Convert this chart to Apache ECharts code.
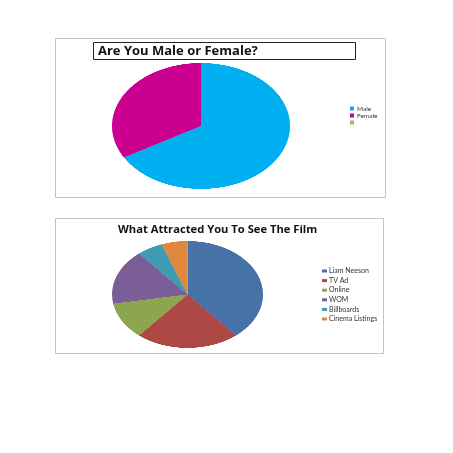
<!DOCTYPE html>
<html>
<head>
<meta charset="utf-8">
<script src="https://cdn.jsdelivr.net/npm/echarts@6/dist/echarts.min.js"></script>
<style>
html,body{margin:0;padding:0;background:#fff;}
#main{position:absolute;left:0;top:0;width:453px;height:453px;}
#pie1{position:absolute;left:136px;top:61px;width:130px;height:130px;transform:scaleX(1.413);transform-origin:50% 50%;}
#pie2{position:absolute;left:131.5px;top:239px;width:111px;height:111px;transform:scaleX(1.411);transform-origin:50% 50%;}
</style>
</head>
<body>
<div id="main"></div>
<div id="pie1"></div>
<div id="pie2"></div>
<script>
// ---- data ----
const genderTitle = 'Are You Male or Female?';
const genderCats = ['Male', 'Female', ' '];
const genderVals = [12, 6, 0];
const genderColors = ['#00b0f0', '#cc0090', '#9bbb59'];

const filmTitle = 'What Attracted You To See The Film';
const filmCats = ['Liam Neeson', 'TV Ad', 'Online', 'WOM', 'Billboards', 'Cinema Listings'];
const filmVals = [7, 4, 2, 3, 1, 1];
const filmColors = ['#4672a8', '#ad4845', '#8ba64f', '#7b5d97', '#409bb4', '#df873d'];

function pieData(cats, vals, colors) {
  return cats.map((c, i) => ({ name: c, value: vals[i], itemStyle: { color: colors[i] } }));
}

// ---- main chart: frames, titles, legends ----
const main = echarts.init(document.getElementById('main'), null, { renderer: 'canvas' });
main.setOption({
  animation: false,
  graphic: [
    { type: 'rect', z: -10, shape: { x: 55.5, y: 38.5, width: 330, height: 159 },
      style: { fill: '#fff', stroke: '#c4c4c4', lineWidth: 1 } },
    { type: 'rect', z: -10, shape: { x: 55.5, y: 218.5, width: 328, height: 135 },
      style: { fill: '#fff', stroke: '#c4c4c4', lineWidth: 1 } },
    { type: 'rect', z: -5, shape: { x: 93.5, y: 42.5, width: 262, height: 17 },
      style: { fill: 'none', stroke: '#222', lineWidth: 1 } }
  ],
  title: [
    { text: genderTitle, left: 98, top: 44.5, padding: 0,
      textStyle: { fontFamily: 'Open Sans', fontWeight: 'bold', fontSize: 13, color: '#111' } },
    { text: filmTitle, left: 118, top: 224, padding: 0,
      textStyle: { fontFamily: 'Open Sans', fontWeight: 'bold', fontSize: 11.2, color: '#111' } }
  ],
  legend: [
    { orient: 'vertical', left: 350, top: 105, padding: 0, itemGap: 0,
      itemWidth: 4, itemHeight: 4, icon: 'rect', selectedMode: false,
      data: genderCats,
      itemStyle: { opacity: 1 },
      textStyle: { fontFamily: 'Lato', fontSize: 6.5, lineHeight: 6, color: '#333', padding: [0, 0, 0, -2] } },
    { orient: 'vertical', left: 322, top: 267, padding: 0, itemGap: 1.6,
      itemWidth: 5, itemHeight: 3, icon: 'rect', selectedMode: false,
      data: filmCats,
      itemStyle: { opacity: 1 },
      textStyle: { fontFamily: 'Lato', fontSize: 7, lineHeight: 8, color: '#333', padding: [0, 0, 0, -3] } }
  ],
  series: [
    { type: 'pie', radius: [0, 0], center: [201, 126], silent: true, label: { show: false },
      itemStyle: { opacity: 0 }, data: pieData(genderCats, genderVals, genderColors) },
    { type: 'pie', radius: [0, 0], center: [187, 294], silent: true, label: { show: false },
      itemStyle: { opacity: 0 }, data: pieData(filmCats, filmVals, filmColors) }
  ]
});

// ---- pies (stretched horizontally like the original) ----
function drawPie(id, cats, vals, colors, r) {
  const c = echarts.init(document.getElementById(id), null, { renderer: 'canvas', devicePixelRatio: 3 });
  c.setOption({
    animation: false,
    series: [{
      type: 'pie', radius: [0, r], center: ['50%', '50%'], startAngle: 90, clockwise: true,
      silent: true, label: { show: false }, labelLine: { show: false },
      emphasis: { disabled: true },
      data: pieData(cats, vals, colors)
    }]
  });
}
drawPie('pie1', genderCats, genderVals, genderColors, 63);
drawPie('pie2', filmCats, filmVals, filmColors, 53.5);
</script>
</body>
</html>
